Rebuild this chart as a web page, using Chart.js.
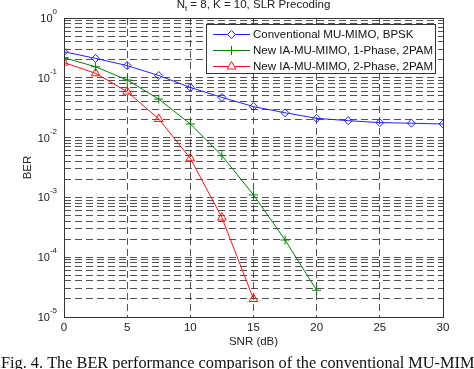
<!DOCTYPE html>
<html>
<head>
<meta charset="utf-8">
<script src="https://cdn.jsdelivr.net/npm/chart.js@4/dist/chart.umd.min.js"></script>
<style>
  html, body { margin: 0; padding: 0; background: #fff; }
  #wrap { width: 474px; height: 369px; }
</style>
</head>
<body>
<div id="wrap"><canvas id="chart" width="474" height="369"></canvas></div>
<script>
// SNR in dB
const snr = [0, 2.5, 5, 7.5, 10, 12.5, 15, 17.5, 20, 22.5, 25, 27.5, 30];

// BER values
const conventionalBer = [0.273, 0.211, 0.16, 0.109, 0.069, 0.047, 0.033, 0.026, 0.021, 0.0192, 0.0178, 0.0174, 0.0169];
const onePhaseBer = [0.217, 0.153, 0.092, 0.044, 0.0169, 0.005, 0.0011, 0.000194, 0.000028];
const twoPhaseBer = [0.18, 0.119, 0.0586, 0.0205, 0.0045, 0.00046, 0.00002];

const seriesLabels = [
  "Conventional MU-MIMO, BPSK",
  "New IA-MU-MIMO, 1-Phase, 2PAM",
  "New IA-MU-MIMO, 2-Phase, 2PAM"
];
const xTicks = [0, 5, 10, 15, 20, 25, 30];
const decades = [-5, -4, -3, -2, -1, 0];

const caption = "Fig. 4. The BER performance comparison of the conventional MU-MIMO";

function toPoints(ys) {
  return ys.map((y, i) => ({ x: snr[i], y: y }));
}

// hand drawn bits: axes box, tick labels with superscripts, legend, titles
const decor = {
  id: "decor",
  afterDraw(chart) {
    const ctx = chart.ctx;
    const a = chart.chartArea;
    const ys = chart.scales.y;
    ctx.save();

    // axes box
    ctx.strokeStyle = "#333";
    ctx.lineWidth = 1;
    ctx.strokeRect(Math.round(a.left) + 0.5, Math.round(a.top) + 0.5,
      Math.round(a.right - a.left), Math.round(a.bottom - a.top));

    // y tick labels 10^n
    ctx.fillStyle = "#222";
    ctx.textBaseline = "alphabetic";
    decades.forEach(n => {
      const py = ys.getPixelForValue(Math.pow(10, n));
      ctx.font = "8px 'Liberation Sans', Arial, sans-serif";
      const exp = String(n);
      const ew = ctx.measureText(exp).width;
      ctx.textAlign = "left";
      const right = a.left - 7;
      ctx.fillText(exp, right - ew, py - 4);
      ctx.font = "11px 'Liberation Sans', Arial, sans-serif";
      ctx.textAlign = "right";
      ctx.fillText("10", right - ew, py + 4);
    });

    // y axis title
    ctx.save();
    ctx.font = "11.5px 'Liberation Sans', Arial, sans-serif";
    ctx.translate(28, (a.top + a.bottom) / 2);
    ctx.rotate(-Math.PI / 2);
    ctx.textAlign = "center";
    ctx.textBaseline = "middle";
    ctx.fillText("BER", 0, 0);
    ctx.restore();

    // x axis title
    ctx.font = "11.5px 'Liberation Sans', Arial, sans-serif";
    ctx.textAlign = "center";
    ctx.textBaseline = "middle";
    ctx.fillText("SNR (dB)", (a.left + a.right) / 2, 342);

    // plot title with subscript t
    const parts = [
      { t: "N", f: "11.5px", dy: 0 },
      { t: "t", f: "8px", dy: 3 },
      { t: " = 8, K = 10, SLR Precoding", f: "11.5px", dy: 0 }
    ];
    let total = 0;
    parts.forEach(p => {
      ctx.font = p.f + " 'Liberation Sans', Arial, sans-serif";
      p.w = ctx.measureText(p.t).width;
      total += p.w;
    });
    let tx = (a.left + a.right) / 2 - total / 2;
    ctx.textAlign = "left";
    ctx.textBaseline = "alphabetic";
    parts.forEach(p => {
      ctx.font = p.f + " 'Liberation Sans', Arial, sans-serif";
      ctx.fillText(p.t, tx, 8 + p.dy);
      tx += p.w;
    });

    // legend box
    const lx = 206, ly = 24, lw = 229, lh = 49;
    ctx.fillStyle = "#fff";
    ctx.fillRect(lx, ly, lw, lh);
    ctx.strokeStyle = "#333";
    ctx.strokeRect(lx + 0.5, ly + 0.5, lw, lh);
    chart.data.datasets.forEach((ds, i) => {
      const y = 34 + i * 16;
      ctx.strokeStyle = ds.borderColor;
      ctx.lineWidth = 1;
      ctx.beginPath();
      ctx.moveTo(213, y + 0.5);
      ctx.lineTo(250, y + 0.5);
      ctx.stroke();
      ctx.fillStyle = "#fff";
      Chart.helpers.drawPoint(ctx, {
        pointStyle: ds.pointStyle,
        radius: ds.pointRadius,
        borderWidth: 1,
        rotation: 0
      }, 231.5, y + 0.5);
      ctx.fillStyle = "#111";
      ctx.font = "11.5px 'Liberation Sans', Arial, sans-serif";
      ctx.textAlign = "left";
      ctx.textBaseline = "middle";
      ctx.fillText(ds.label, 253, y + 1);
    });

    // figure caption
    ctx.fillStyle = "#111";
    ctx.font = "16.3px 'Liberation Serif', 'Times New Roman', serif";
    ctx.textAlign = "left";
    ctx.textBaseline = "alphabetic";
    ctx.fillText(caption, 1, 368);

    ctx.restore();
  }
};

const gridColor = "rgba(40,40,40,0.8)";

new Chart(document.getElementById("chart"), {
  type: "line",
  data: {
    datasets: [
      {
        label: seriesLabels[0],
        data: toPoints(conventionalBer),
        borderColor: "#2020ff",
        pointStyle: "rectRot",
        pointRadius: 4,
        pointBorderColor: "#2020ff",
        pointBackgroundColor: "rgba(255,255,255,0)"
      },
      {
        label: seriesLabels[1],
        data: toPoints(onePhaseBer),
        borderColor: "#008000",
        pointStyle: "cross",
        pointRadius: 4.5,
        pointBorderColor: "#008000",
        pointBackgroundColor: "rgba(255,255,255,0)"
      },
      {
        label: seriesLabels[2],
        data: toPoints(twoPhaseBer),
        borderColor: "#ff1010",
        pointStyle: "triangle",
        pointRadius: 5,
        pointBorderColor: "#ff1010",
        pointBackgroundColor: "rgba(255,255,255,0)"
      }
    ]
  },
  options: {
    responsive: false,
    animation: false,
    devicePixelRatio: 1,
    layout: { padding: { top: 18, right: 31, left: 0, bottom: 0 } },
    elements: {
      line: { borderWidth: 1, tension: 0, fill: false },
      point: { borderWidth: 1, hoverRadius: 4 }
    },
    plugins: {
      legend: { display: false },
      title: { display: false },
      tooltip: { enabled: false }
    },
    scales: {
      x: {
        type: "linear",
        min: 0,
        max: 30,
        afterBuildTicks(scale) {
          scale.ticks = xTicks.map(v => ({ value: v }));
        },
        afterFit(scale) { scale.height = 52; },
        grid: { color: gridColor, lineWidth: 1, drawTicks: false },
        border: { display: false, dash: [7, 4] },
        ticks: {
          padding: 4,
          color: "#222",
          font: { family: "'Liberation Sans', Arial, sans-serif", size: 11.5 },
          maxRotation: 0
        }
      },
      y: {
        type: "logarithmic",
        min: 1e-5,
        max: 1,
        afterBuildTicks(scale) {
          const t = [];
          decades.forEach(n => {
            if (n === 0) { t.push({ value: 1 }); return; }
            for (let m = 1; m <= 9; m++) t.push({ value: m * Math.pow(10, n) });
          });
          scale.ticks = t;
        },
        afterFit(scale) { scale.width = 64; },
        grid: { color: gridColor, lineWidth: 1, drawTicks: false },
        border: { display: false, dash: [7, 4] },
        ticks: { display: false }
      }
    }
  },
  plugins: [decor]
});
</script>
</body>
</html>
